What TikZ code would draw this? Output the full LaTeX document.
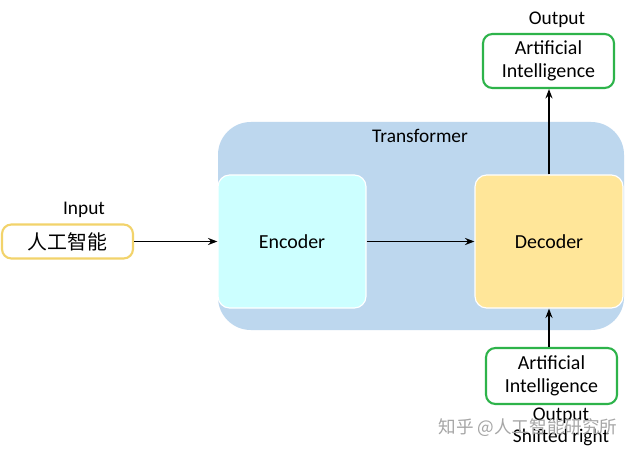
\documentclass[tikz,border=0pt]{standalone}
\usepackage{fontspec}
\setmainfont{Carlito}
\newfontfamily\cjk{Noto Sans CJK SC}
\usetikzlibrary{arrows.meta}
\definecolor{tfblue}{HTML}{BDD7EE}
\definecolor{enccol}{HTML}{CCFFFF}
\definecolor{deccol}{HTML}{FFE699}
\definecolor{ybord}{HTML}{F2D36B}
\definecolor{gbord}{HTML}{2DB34A}
\tikzset{
  px/.style={x=0.03cm,y=-0.03cm},
  inner/.style={draw=white,line width=1pt,rounded corners=10pt,font=\fontsize{17pt}{20pt}\selectfont},
  tag/.style={draw=gbord,line width=1.8pt,rounded corners=8pt,fill=white,align=center,font=\fontsize{17pt}{20pt}\selectfont},
  lbl/.style={font=\fontsize{16.5pt}{19pt}\selectfont},
  arr/.style={-{Stealth[length=8pt,width=6pt]},line width=1.3pt}
}
\begin{document}
\begin{tikzpicture}[px]
\useasboundingbox[fill=white] (0,0) rectangle (640,453);
\node[fill=tfblue,rounded corners=28pt,minimum width=406*0.03cm,minimum height=208*0.03cm] (tf) at (421,226) {};
\node[lbl] (tfl) at (420,136) {Transformer};
\node[inner,fill=enccol,minimum width=148*0.03cm,minimum height=133*0.03cm] (enc) at (292,241.5) {Encoder};
\node[inner,fill=deccol,minimum width=148*0.03cm,minimum height=133*0.03cm] (dec) at (549,241.5) {Decoder};
\node[tag,draw=ybord,minimum width=131*0.03cm,minimum height=34*0.03cm] (in) at (67.5,241.5) {\cjk 人工智能};
\node[lbl] (inl) at (84,210) {Input};
\node[tag,minimum width=131*0.03cm,minimum height=54*0.03cm,inner sep=1pt] (out) at (548.5,61) {Artificial\\Intelligence};
\node[lbl] (outl) at (557,20) {Output};
\node[tag,minimum width=131*0.03cm,minimum height=56*0.03cm,inner sep=1pt] (sh) at (551.5,376) {Artificial\\Intelligence};
\node[lbl,align=center] (shl) at (561,427) {Output\\Shifted right};
\node[text=gray!70,font=\cjk\fontsize{15pt}{17pt}\selectfont] (wm) at (528,428) {知乎 @人工智能研究所};
\draw[arr] (in.east) -- (enc.west);
\draw[arr] (enc.east) -- (dec.west);
\draw[arr] (dec.north) -- (out.south -| dec.north);
\draw[arr] (sh.north -| dec.south) -- (dec.south);
\end{tikzpicture}
\end{document}
